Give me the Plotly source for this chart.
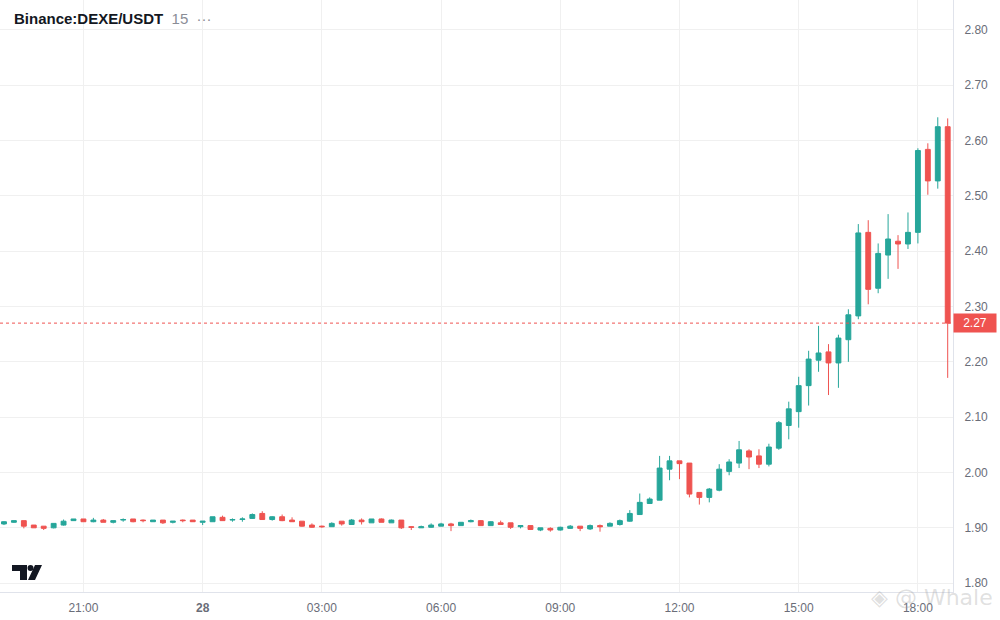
import pandas as pd
import plotly.graph_objects as go

# ---- data (15-minute candles, 27th 19:00 -> 28th 18:45) ----
start_time = "2025-01-27 19:00"
n_candles = 96

opens = [1.907,1.910,1.913,1.905,1.903,1.900,1.905,1.913,1.916,1.911,1.914,1.910,1.914,1.916,1.914,1.911,
         1.914,1.910,1.914,1.914,1.910,1.911,1.919,1.914,1.915,1.917,1.926,1.915,1.920,1.914,1.912,1.905,
         1.903,1.902,1.912,1.906,1.914,1.909,1.916,1.909,1.914,1.902,1.900,1.901,1.903,1.907,1.904,1.911,
         1.913,1.904,1.909,1.909,1.902,1.904,1.896,1.899,1.896,1.899,1.903,1.898,1.904,1.903,1.906,1.912,
         1.924,1.944,1.950,2.006,2.021,2.017,1.964,1.955,1.968,2.002,2.017,2.039,2.030,2.015,2.044,2.085,
         2.110,2.157,2.203,2.218,2.198,2.240,2.283,2.434,2.333,2.393,2.418,2.413,2.434,2.584,2.527,2.625]
highs = [1.912,1.913,1.913,1.905,1.903,1.908,1.915,1.916,1.916,1.918,1.916,1.913,1.917,1.916,1.915,1.914,
         1.914,1.912,1.915,1.914,1.912,1.920,1.922,1.917,1.919,1.926,1.930,1.921,1.924,1.919,1.912,1.908,
         1.904,1.910,1.912,1.916,1.917,1.916,1.917,1.915,1.914,1.903,1.904,1.908,1.909,1.909,1.910,1.915,
         1.914,1.912,1.913,1.909,1.904,1.904,1.900,1.901,1.902,1.905,1.903,1.906,1.906,1.910,1.915,1.932,
         1.962,1.955,2.030,2.030,2.021,2.017,1.964,1.972,2.015,2.024,2.057,2.042,2.042,2.052,2.093,2.128,
         2.173,2.220,2.265,2.232,2.249,2.295,2.449,2.456,2.414,2.467,2.429,2.470,2.586,2.595,2.642,2.640]
lows = [1.905,1.909,1.899,1.900,1.896,1.899,1.904,1.913,1.911,1.910,1.910,1.908,1.911,1.910,1.910,1.911,
        1.907,1.908,1.910,1.911,1.905,1.911,1.913,1.911,1.911,1.916,1.915,1.913,1.912,1.911,1.902,1.900,
        1.900,1.902,1.904,1.906,1.906,1.909,1.910,1.909,1.898,1.896,1.900,1.900,1.903,1.894,1.904,1.910,
        1.904,1.904,1.906,1.898,1.899,1.896,1.894,1.893,1.895,1.898,1.894,1.896,1.893,1.903,1.904,1.911,
        1.924,1.944,1.950,1.986,1.988,1.955,1.942,1.946,1.966,1.995,2.008,2.006,2.008,2.011,2.041,2.060,
        2.081,2.121,2.182,2.140,2.153,2.200,2.277,2.304,2.324,2.350,2.368,2.404,2.414,2.502,2.513,2.171]
closes = [1.911,1.913,1.903,1.900,1.899,1.908,1.912,1.916,1.911,1.914,1.910,1.913,1.915,1.911,1.913,1.914,
          1.909,1.912,1.913,1.911,1.912,1.920,1.913,1.915,1.916,1.924,1.915,1.920,1.913,1.911,1.903,1.901,
          1.902,1.908,1.907,1.914,1.911,1.916,1.910,1.914,1.900,1.901,1.902,1.905,1.907,1.904,1.910,1.913,
          1.904,1.911,1.906,1.901,1.904,1.897,1.900,1.896,1.901,1.903,1.899,1.904,1.902,1.908,1.913,1.926,
          1.946,1.952,2.008,2.021,2.016,1.961,1.955,1.970,2.006,2.019,2.041,2.028,2.015,2.046,2.090,2.115,
          2.157,2.205,2.216,2.198,2.243,2.285,2.433,2.331,2.396,2.422,2.413,2.434,2.582,2.527,2.625,2.270]

last_price = 2.27
title_symbol = "Binance:DEXE/USDT"
title_interval = "15"
x_tick_times = ["2025-01-27 21:00", "2025-01-28 00:00", "2025-01-28 03:00", "2025-01-28 06:00",
                "2025-01-28 09:00", "2025-01-28 12:00", "2025-01-28 15:00", "2025-01-28 18:00"]
x_tick_labels = ["21:00", "<b>28</b>", "03:00", "06:00", "09:00", "12:00", "15:00", "18:00"]
y_ticks = [1.80, 1.90, 2.00, 2.10, 2.20, 2.30, 2.40, 2.50, 2.60, 2.70, 2.80]

times = pd.date_range(start_time, periods=n_candles, freq="15min")

GREEN = "#26a69a"
RED = "#ef5350"
GRID = "#f0f0f0"
TXT = "#6a6d78"

fig = go.Figure()
fig.add_trace(go.Candlestick(
    x=times, open=opens, high=highs, low=lows, close=closes,
    increasing=dict(line=dict(color=GREEN, width=1), fillcolor=GREEN),
    decreasing=dict(line=dict(color=RED, width=1), fillcolor=RED),
    whiskerwidth=0, showlegend=False, hoverinfo="skip",
))

# last price line
fig.add_shape(type="line", xref="paper", x0=0, x1=1, yref="y", y0=last_price, y1=last_price,
              line=dict(color=RED, width=1, dash="dot"), layer="above")
fig.add_annotation(xref="paper", x=1.0, yref="y", y=last_price, text=f"{last_price:.2f}",
                   xanchor="left", yanchor="middle", showarrow=False,
                   bgcolor=RED, font=dict(color="white", size=12, family="Liberation Sans, Arial"),
                   borderpad=2, width=38, align="center")

# title
fig.add_annotation(xref="paper", yref="paper", x=0, y=1, xshift=12, yshift=-8,
                   xanchor="left", yanchor="top", showarrow=False,
                   text=(f"<b>{title_symbol}</b>  <span style='color:#8a8d96'>{title_interval}</span>"
                         f"  <span style='color:#8a8d96'>···</span>"),
                   font=dict(size=15, color="#131722", family="Liberation Sans, Arial"))

# watermark
fig.add_annotation(xref="paper", yref="paper", x=1.0, y=0, xshift=42, yshift=-20,
                   xanchor="right", yanchor="bottom", showarrow=False,
                   text="◈ @ Whale", font=dict(size=22, color="rgba(150,150,150,0.30)",
                                                family="DejaVu Sans"))

# TradingView-like logo (decoration, in paper coords)
W, H = 953.0, 592.0
def px(x):
    return x / W
def py(y):
    return 1 - y / H
logo = (f"M {px(12)},{py(565)} L {px(27)},{py(565)} L {px(27)},{py(580)} L {px(20)},{py(580)} "
        f"L {px(20)},{py(571)} L {px(12)},{py(571)} Z "
        f"M {px(35)},{py(580)} L {px(42)},{py(565)} L {px(35)},{py(565)} L {px(28)},{py(580)} Z")
fig.add_shape(type="path", xref="paper", yref="paper", path=logo,
              fillcolor="#131722", line=dict(width=0))
fig.add_shape(type="circle", xref="paper", yref="paper", x0=px(27.5), x1=px(33.5), y0=py(571), y1=py(565),
              fillcolor="#131722", line=dict(width=0))

fig.update_layout(
    width=1000, height=620,
    margin=dict(l=0, r=47, t=0, b=28),
    paper_bgcolor="white", plot_bgcolor="white",
    font=dict(family="Liberation Sans, Arial", size=12, color=TXT),
    xaxis=dict(
        range=[pd.Timestamp("2025-01-27 18:54"), pd.Timestamp("2025-01-28 18:53")],
        tickvals=pd.to_datetime(x_tick_times), ticktext=x_tick_labels,
        showgrid=True, gridcolor=GRID, gridwidth=1,
        rangeslider=dict(visible=False), showline=True, linecolor="#e0e3eb",
        ticks="", ticklabelstandoff=5, tickfont=dict(size=12, color=TXT), zeroline=False,
        fixedrange=True,
    ),
    yaxis=dict(
        side="right", range=[1.784, 2.854],
        tickvals=y_ticks, tickformat=".2f",
        showgrid=True, gridcolor=GRID, gridwidth=1,
        showline=True, linecolor="#e0e3eb", mirror=False,
        ticks="", ticklabelstandoff=8, tickfont=dict(size=12, color=TXT), zeroline=False,
    ),
)

fig.write_html("out.html", config={"displayModeBar": False},
               post_script="document.body.style.margin='0';document.body.style.overflow='hidden';")
